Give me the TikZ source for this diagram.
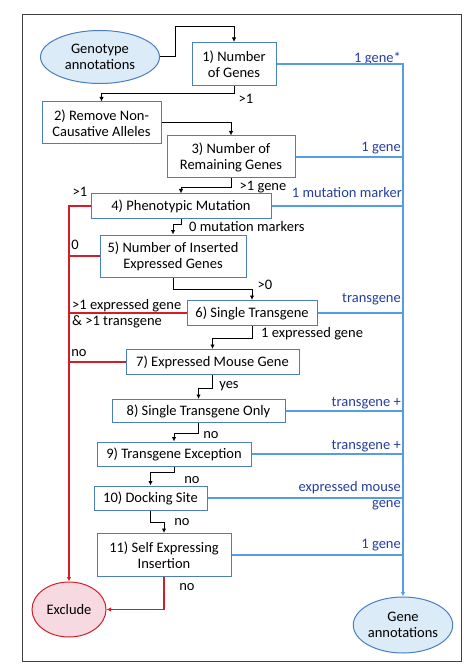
\documentclass[tikz,border=0pt]{standalone}
\usepackage{fontspec}
\setmainfont{Carlito}
\usepackage{tikz}
\usetikzlibrary{positioning, arrows.meta, shapes.geometric}
\definecolor{boxblue}{RGB}{74,126,192}
\definecolor{lineblue}{RGB}{84,158,230}
\definecolor{textblue}{RGB}{36,62,160}
\definecolor{fillblue}{RGB}{220,235,248}
\definecolor{redline}{RGB}{210,30,40}
\definecolor{fillpink}{RGB}{246,217,225}

\begin{document}
\begin{tikzpicture}[x=1pt, y=-1pt, font=\fontsize{14.5}{16}\selectfont,
    box/.style = {draw=boxblue, fill=white, line width=1pt, align=center, inner sep=1pt},
    oval/.style = {ellipse, draw=boxblue, fill=fillblue, line width=1pt, align=center, inner sep=0pt},
    bad/.style = {ellipse, draw=redline, fill=fillpink, line width=1pt, inner sep=0pt},
    arr/.style = {black, line width=1pt, -{Latex[length=4.5pt,width=4.5pt]}},
    yes/.style = {lineblue, line width=1.3pt},
    no/.style = {redline, line width=1.3pt},
    lbl/.style = {inner sep=0pt},
    blbl/.style = {inner sep=0pt, text=textblue, anchor=east, align=right}]
    \useasboundingbox (0,0) rectangle (474,668);
    % Frame
    \draw[black!75, line width=0.8pt] (22,14) rectangle (461,661);

    % Nodes
    \node[oval, minimum width=119pt, minimum height=53pt] (geno) at (100,57) {Genotype\\annotations};
    \node[box, minimum width=84pt, minimum height=43pt] (n1) at (234,64) {1) Number\\of Genes};
    \node[box, minimum width=119pt, minimum height=42pt] (n2) at (101.5,123) {2) Remove Non-\\Causative Alleles};
    \node[box, minimum width=128pt, minimum height=42pt] (n3) at (231,157) {3) Number of\\Remaining Genes};
    \node[box, minimum width=180pt, minimum height=24pt] (n4) at (181,206) {4) Phenotypic Mutation};
    \node[box, minimum width=146pt, minimum height=42pt] (n5) at (173,256) {5) Number of Inserted\\Expressed Genes};
    \node[box, minimum width=130pt, minimum height=25pt] (n6) at (252,313) {6) Single Transgene};
    \node[box, minimum width=173pt, minimum height=25pt] (n7) at (212.5,362) {7) Expressed Mouse Gene};
    \node[box, minimum width=173pt, minimum height=23pt] (n8) at (198.5,411) {8) Single Transgene Only};
    \node[box, minimum width=154pt, minimum height=24pt] (n9) at (174,454) {9) Transgene Exception};
    \node[box, minimum width=113pt, minimum height=24pt] (n10) at (150.5,498) {10) Docking Site};
    \node[box, minimum width=134pt, minimum height=43pt] (n11) at (164,555) {11) Self Expressing\\Insertion};
    \node[bad, minimum width=74pt, minimum height=55pt] (excl) at (69,609.5) {Exclude};
    \node[oval, minimum width=97pt, minimum height=56pt] (anno) at (403,625) {Gene\\annotations};

    % Labels
    \node[lbl] (l1) at (246,99) {>1};
    \node[lbl] (l3) at (263,187) {>1 gene};
    \node[lbl] (l4) at (80,192) {>1};
    \node[lbl, anchor=west] (l4b) at (189,227) {0 mutation markers};
    \node[lbl] (l5) at (75,245) {0};
    \node[lbl] (l5b) at (265,285) {>0};
    \node[lbl, anchor=west, align=left] (l6) at (72,314) {>1 expressed gene\\\& >1 transgene};
    \node[lbl, anchor=west] (l6b) at (261,334) {1 expressed gene};
    \node[lbl] (l7) at (79,353) {no};
    \node[lbl] (l7b) at (229,386) {yes};
    \node[lbl] (l8) at (211,435) {no};
    \node[lbl] (l9) at (192,480) {no};
    \node[lbl] (l10) at (182,522) {no};
    \node[lbl] (l11) at (187,587) {no};
    \node[blbl] (b1) at (401,59) {1 gene*};
    \node[blbl] (b3) at (401,148) {1 gene};
    \node[blbl] (b4) at (402,193) {1 mutation marker};
    \node[blbl] (b6) at (401,299) {transgene};
    \node[blbl] (b8) at (401,403) {transgene +};
    \node[blbl] (b9) at (401,446) {transgene +};
    \node[blbl] (b10) at (401,496) {expressed mouse\\gene};
    \node[blbl] (b11) at (401,545) {1 gene};

    % Lines
    \draw[arr] (geno.east) -| (175,27) -| (n1.north);
    \draw[arr] (n1.south) -- ++(0,8) -| (n2.north);
    \draw[arr] (n2.east) -| (n3.north);
    \draw[arr] (n3.south) -- ++(0,9) -| (n4.north);
    \draw[arr] (n4.south) -- ++(0,6) -| (n5.north);
    \draw[arr] (n5.south) -- ++(0,12) -| (n6.north);
    \draw[arr] (n6.south) -- ++(0,12) -| (n7.north);
    \draw[arr] (n7.south) -- ++(0,13) -| (n8.north);
    \draw[arr] (n8.south) -- ++(0,10) -| (n9.north);
    \draw[arr] (n9.south) -- ++(0,6) -| (n10.north);
    \draw[arr] (n10.south) -- ++(0,12) -| (n11.north);

    % to Exclude
    \draw[no, -{Latex[length=4.5pt,width=4.5pt]}] (n4.west) -| (excl.north);
    \draw[no, -{Latex[length=4.5pt,width=4.5pt]}] (n11.south) |- (excl.east);
    \foreach \n in {n5, n6, n7} {
        \draw[no] (\n.west) -- (\n.west -| excl.north);
    }

    % to Gene annotations
    \draw[yes, -{Latex[length=4.5pt,width=4.5pt]}] (n1.east) -| (anno.north);
    \foreach \n in {n3, n4, n6, n8, n9, n10, n11} {
        \draw[yes] (\n.east) -- (\n.east -| anno.north);
    }
\end{tikzpicture}
\end{document}
